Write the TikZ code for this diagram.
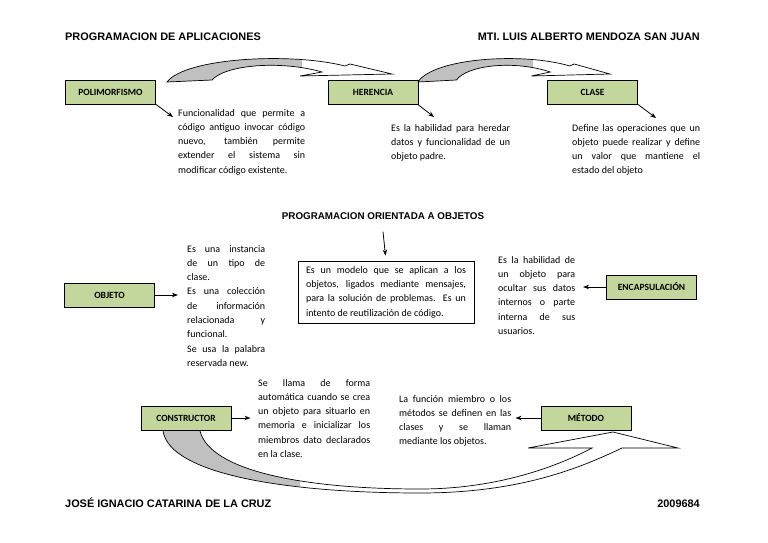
\documentclass[tikz,border=0pt]{standalone}
\usepackage{fontspec}
\setmainfont{Carlito}
\newfontfamily\arial{Liberation Sans}
\usetikzlibrary{arrows.meta}
\definecolor{verde}{RGB}{195,214,155}
\definecolor{sombra}{RGB}{192,192,192}

\tikzset{
  curvasup/.pic={
    \begin{scope}
      \clip (0,-40) rectangle (135,5);
      \fill[sombra] (0,0) .. controls (18,-24) and (123,-30) .. (178,-16) -- (155,-10)
        .. controls (113,-22) and (58,-17) .. (45,-2) -- cycle;
    \end{scope}
    \draw[banda] (0,0) .. controls (18,-24) and (123,-30) .. (178,-16) -- (183,-18) -- (225,-8)
      -- (133,-6) -- (155,-10) .. controls (113,-22) and (58,-17) .. (45,-2) -- cycle;
  }
}

\begin{document}
\begin{tikzpicture}[x=1pt,y=-1pt,
    caja/.style={draw,line width=0.9pt,fill=verde,minimum width=90pt,minimum height=24pt,
      inner sep=0pt,font=\bfseries\fontsize{9.5}{11}\selectfont},
    texto/.style={anchor=base west,inner sep=0pt,align=justify,font=\fontsize{10}{14.3}\selectfont},
    titulo/.style={inner sep=0pt,font=\arial\bfseries\fontsize{10.9}{12}\selectfont},
    flecha/.style={-{Stealth[length=6pt,width=4.5pt]},line width=0.8pt},
    banda/.style={line width=0.7pt}]
  \useasboundingbox[fill=white] (0,0) rectangle (768,543);

  % encabezado y pie
  \node[titulo,anchor=base west] (materia) at (65,41) {PROGRAMACION DE APLICACIONES};
  \node[titulo,anchor=base east] (maestro) at (700,41) {MTI. LUIS ALBERTO MENDOZA SAN JUAN};
  \node[titulo,anchor=base west] (alumno) at (65,507) {JOSÉ IGNACIO CATARINA DE LA CRUZ};
  \node[titulo,anchor=base east] (matricula) at (700,507) {2009684};

  % conceptos
  \foreach \n/\t/\x/\y in {poli/POLIMORFISMO/110.5/92, her/HERENCIA/373/92.5, clase/CLASE/592.5/92,
      obj/OBJETO/109.5/295, enc/ENCAPSULACIÓN/651.5/287, cons/CONSTRUCTOR/186/418, met/MÉTODO/586/418}
    \node[caja] (\n) at (\x,\y) {\t};

  % definiciones
  \node[texto,text width=127pt] (dpoli) at (178,116) {Funcionalidad que permite a\linebreak
    código antiguo invocar código\linebreak nuevo, también permite\linebreak
    extender el sistema sin\linebreak modificar código existente.};
  \node[texto,text width=119pt] (dher) at (391,131) {Es la habilidad para heredar\linebreak
    datos y funcionalidad de un\linebreak objeto padre.};
  \node[texto,text width=128pt] (dclase) at (572,131) {Define las operaciones que un\linebreak
    objeto puede realizar y define\linebreak un valor que mantiene el\linebreak estado del objeto};
  \node[titulo,font=\arial\bfseries\fontsize{9.8}{12}\selectfont] (poo) at (383,216) {PROGRAMACION ORIENTADA A OBJETOS};
  \node[draw,line width=0.9pt,text width=160pt,minimum height=62pt,inner xsep=8pt,align=justify,
    font=\fontsize{10}{14.3}\selectfont] (modelo) at (386,292) {Es un modelo que se aplican a los\linebreak
    objetos, ligados mediante mensajes,\linebreak para la solución de problemas. Es un\linebreak
    intento de reutilización de código.};
  \node[texto,text width=78pt] (dobj) at (187,252) {Es una instancia\linebreak de un tipo de\linebreak clase.\\
    Es una colección\linebreak de información\linebreak relacionada y\linebreak funcional.\\
    Se usa la palabra\linebreak reservada new.};
  \node[texto,text width=77pt] (denc) at (498,263) {Es la habilidad de\linebreak un objeto para\linebreak
    ocultar sus datos\linebreak internos o parte\linebreak interna de sus\linebreak usuarios.};
  \node[texto,text width=112pt] (dcons) at (258,386) {Se llama de forma\linebreak
    automática cuando se crea\linebreak un objeto para situarlo en\linebreak
    memoria e inicializar los\linebreak miembros dato declarados\linebreak en la clase.};
  \node[texto,text width=112pt] (dmet) at (399,402) {La función miembro o los\linebreak
    métodos se definen en las\linebreak clases y se llaman\linebreak mediante los objetos.};

  % flechas rectas
  \coordinate (fpoli) at (173,117);
  \coordinate (fher) at (434,117);
  \coordinate (fclase) at (656,118);
  \draw[flecha] (poli.south east) -- (fpoli);
  \draw[flecha] (her.south east) -- (fher);
  \draw[flecha] (clase.south east) -- (fclase);
  \draw[flecha,shorten >=5pt] (poo.south) ++(0,12) -- (modelo.north);
  \draw[flecha] (obj.east) -- ++(23,0);
  \draw[flecha] (enc.west) -- ++(-23,0);
  \draw[flecha] (cons.east) -- ++(19,0);
  \draw[flecha] (met.west) -- ++(-25,0);

  % flechas curvas
  \pic at (167,82) {curvasup};
  \pic[xscale=0.853] at (418,82) {curvasup};
  \begin{scope}
    \clip (0,420) rectangle (300,500);
    \fill[sombra] (163,431) .. controls (170,475) and (290,493) .. (420,493)
      -- (420,489) .. controls (300,489) and (210,470) .. (200,431) -- cycle;
  \end{scope}
  \draw[banda] (163,431) .. controls (170,475) and (290,493) .. (420,493)
    .. controls (520,493) and (580,468) .. (622,448) -- (678,448) -- (613,432) -- (528,448) -- (592,448)
    .. controls (560,465) and (500,489) .. (420,489) .. controls (300,489) and (210,470) .. (200,431);
\end{tikzpicture}
\end{document}
